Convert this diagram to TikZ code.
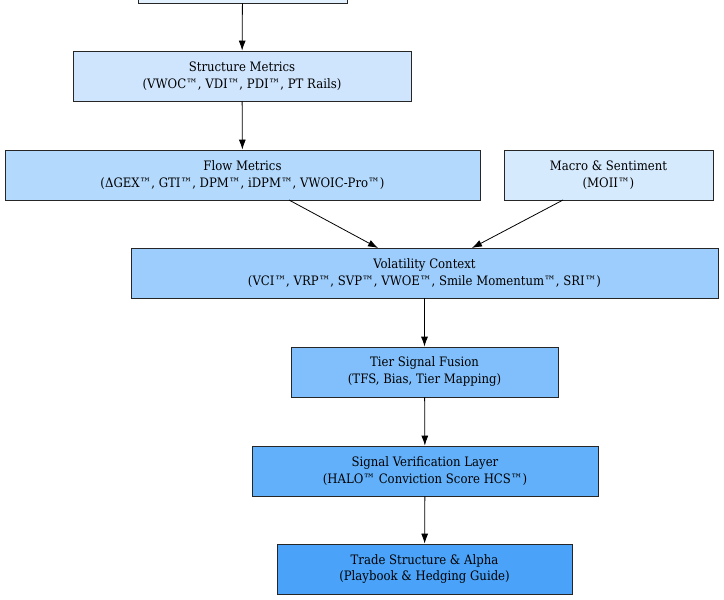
\documentclass[tikz,border=0pt]{standalone}
\usepackage{fontspec}
\setmainfont{DejaVu Serif Condensed}
\usetikzlibrary{arrows.meta}
\definecolor{c0}{HTML}{E3F0FE}
\definecolor{c1}{HTML}{CFE5FD}
\definecolor{c2}{HTML}{B3D9FD}
\definecolor{cm}{HTML}{D6EAFE}
\definecolor{c3}{HTML}{9DCDFC}
\definecolor{c4}{HTML}{80BFFB}
\definecolor{c5}{HTML}{62B0FA}
\definecolor{c6}{HTML}{4AA3F9}
\begin{document}
\begin{tikzpicture}[x=1pt,y=-1pt,
 box/.style={draw=black!85,line width=0.8pt,align=center,inner sep=0pt,font=\fontsize{13}{17}\selectfont},
 ar/.style={-{Latex[length=10pt,width=7pt]},line width=0.8pt}]
\useasboundingbox (0,0) rectangle (724,600);
\fill[white] (0,0) rectangle (724,600);
\node[box,fill=c0,minimum width=209pt,minimum height=30pt] (top) at (242.5,-12) {};
\node[box,fill=c1,minimum width=338pt,minimum height=50pt] (s) at (242,76) {Structure Metrics\\(VWOC™, VDI™, PDI™, PT Rails)};
\node[box,fill=c2,minimum width=475pt,minimum height=50pt] (f) at (242.5,175) {Flow Metrics\\(ΔGEX™, GTI™, DPM™, iDPM™, VWOIC-Pro™)};
\node[box,fill=cm,minimum width=209pt,minimum height=50pt] (m) at (608.5,175) {Macro \& Sentiment\\(MOII™)};
\node[box,fill=c3,minimum width=587pt,minimum height=50pt] (v) at (424.5,273) {Volatility Context\\(VCI™, VRP™, SVP™, VWOE™, Smile Momentum™, SRI™)};
\node[box,fill=c4,minimum width=267pt,minimum height=50pt] (t) at (424.5,372) {Tier Signal Fusion\\(TFS, Bias, Tier Mapping)};
\node[box,fill=c5,minimum width=346pt,minimum height=50pt] (h) at (425,471) {Signal Verification Layer\\(HALO™ Conviction Score HCS™)};
\node[box,fill=c6,minimum width=295pt,minimum height=50pt] (x) at (424.5,569) {Trade Structure \& Alpha\\(Playbook \& Hedging Guide)};
\draw[ar] (top) -- (s);
\draw[ar] (s) -- (f);
\draw[ar] (289,200) -- (378,248);
\draw[ar] (563,200) -- (472,248);
\draw[ar] (v) -- (t);
\draw[ar] (t) -- (h);
\draw[ar] (h) -- (x);
\end{tikzpicture}
\end{document}
